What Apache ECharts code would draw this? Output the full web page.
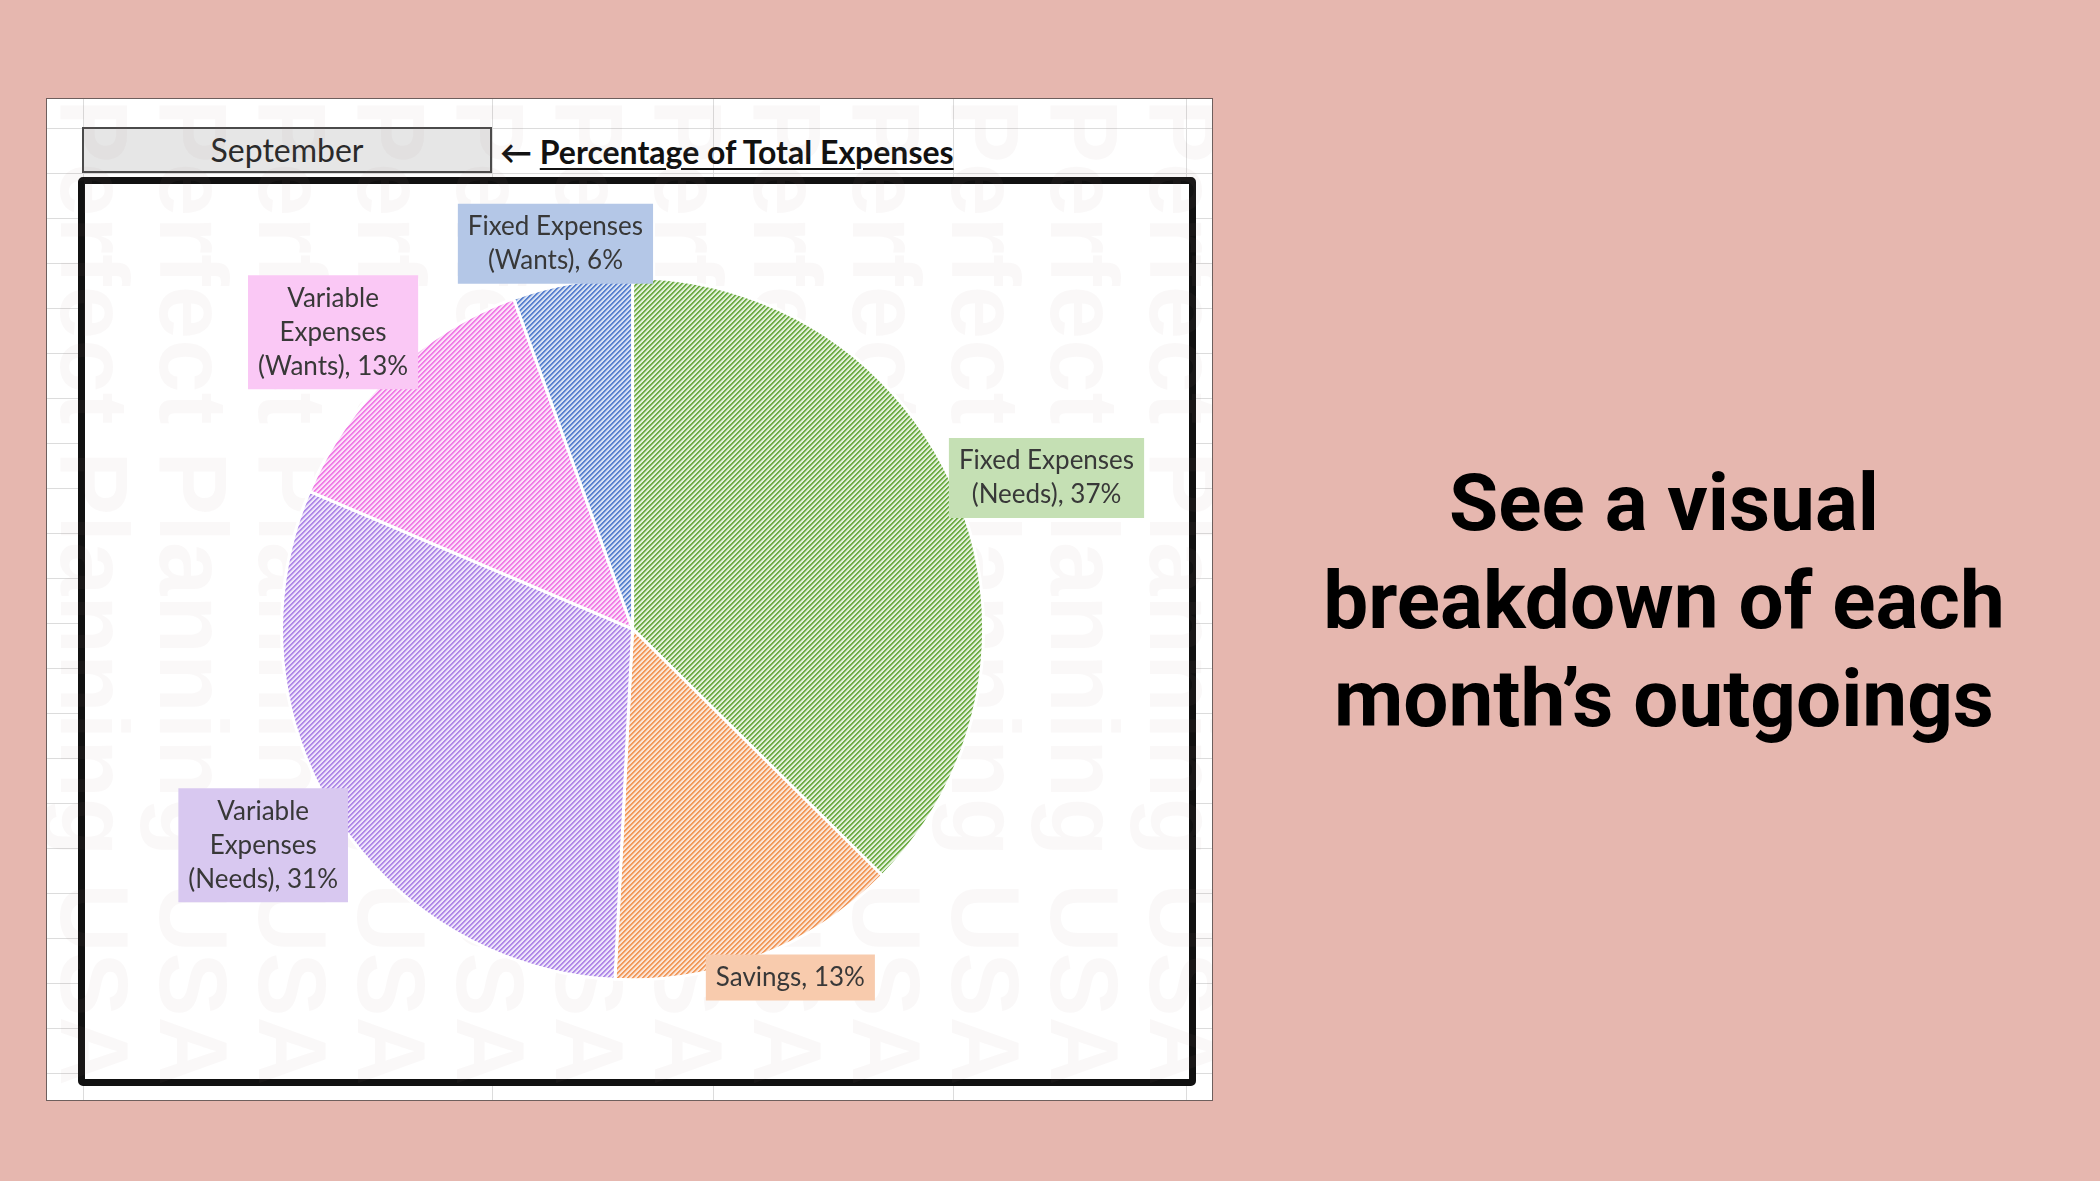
<!DOCTYPE html>
<html>
<head>
<meta charset="utf-8">
<script src="https://cdn.jsdelivr.net/npm/echarts@6/dist/echarts.min.js"></script>
<style>
  html, body { margin: 0; padding: 0; }
  body {
    width: 2100px; height: 1181px; position: relative; overflow: hidden;
    background: #e6b7af; font-family: Lato, 'Open Sans', sans-serif;
  }
  #sheet {
    position: absolute; left: 46px; top: 98px; width: 1167px; height: 1003px;
    background: #fff; border: 1px solid #6e5f5d; box-sizing: border-box; overflow: hidden;
  }
  .gl-h { position: absolute; left: 0; right: 0; height: 1px; background: #dcdcdc; }
  .gl-v { position: absolute; top: 0; bottom: 0; width: 1px; background: #dcdcdc; }
  #month {
    position: absolute; left: 35px; top: 28px; width: 410px; height: 46px;
    box-sizing: border-box; border: 2px solid #4a4a4a; background: #e6e6e6;
    font-size: 32px; line-height: 42px; text-align: center; color: #2a2a2a; z-index: 2;
  }
  #title {
    position: absolute; left: 453px; top: 32px; font-size: 32px; line-height: 42px;
    font-weight: 700; color: #111; z-index: 2; white-space: nowrap;
  }
  #title u { text-underline-offset: 4px; text-decoration-thickness: 2px; }
  #frame {
    position: absolute; left: 31px; top: 78px; width: 1118px; height: 909px;
    box-sizing: border-box; border: 7px solid #111; border-radius: 5px; background: #fff; z-index: 1;
  }
  #mark { position: absolute; left: 0; top: 0; width: 100%; height: 100%; z-index: 3; pointer-events: none; }
  .wm {
    position: absolute; top: 0; width: 96px; writing-mode: vertical-rl;
    font-family: 'Liberation Sans', Arial, sans-serif; font-weight: 700; font-size: 96px; line-height: 96px;
    color: rgba(170, 130, 130, 0.055); white-space: nowrap;
  }
  #chart { position: absolute; left: 38px; top: 85px; width: 1104px; height: 895px; z-index: 4; }
  #blurb {
    position: absolute; left: 1264px; top: 454px; width: 800px; text-align: center;
    font-family: Roboto, sans-serif; font-weight: 700; font-size: 80px; line-height: 98px;
    color: #000;
  }
</style>
</head>
<body>
<div id="sheet">
  <div id="month">September</div>
  <div id="title">&larr; <u>Percentage of Total Expenses</u></div>
  <div id="frame"></div>
  <div id="mark"></div>
  <div id="chart"></div>
</div>
<div id="blurb">See a visual<br>breakdown of each<br>month’s outgoings</div>

<script>
// slices clockwise from 12 o'clock
const categories = [
  'Fixed Expenses (Needs)',
  'Savings',
  'Variable Expenses (Needs)',
  'Variable Expenses (Wants)',
  'Fixed Expenses (Wants)'
];
const shares = [37.4, 13.4, 30.6, 13.1, 5.5];

// hatch colours: stripe, background, label box
const stripeColors = ['#70ad47', '#f19a5c', '#b08ae8', '#f07de6', '#5b83cf'];
const baseColors = ['#e2f0d9', '#fce4d6', '#eee5fb', '#fce0f9', '#d6e0f3'];
const boxColors = ['#c5e0b4', '#f8cbad', '#d8c8f0', '#fac8f5', '#b4c7e7'];

// spreadsheet grid + watermark
const sheet = document.getElementById('sheet');
for (let y = 28.7; y < 1003; y += 45) {
  const d = document.createElement('div');
  d.className = 'gl-h';
  d.style.top = Math.round(y) + 'px';
  sheet.insertBefore(d, sheet.firstChild);
}
[36, 445, 666, 906, 1139].forEach(x => {
  const d = document.createElement('div');
  d.className = 'gl-v';
  d.style.left = x + 'px';
  sheet.insertBefore(d, sheet.firstChild);
});
const mark = document.getElementById('mark');
for (let k = 0; k < 12; k++) {
  const d = document.createElement('div');
  d.className = 'wm';
  d.style.left = (47 + 99 * k - 48) + 'px';
  d.textContent = 'Perfect Planning USA';
  mark.appendChild(d);
}

function hatch(stripe, base) {
  const c = document.createElement('canvas');
  c.width = c.height = 5;
  const g = c.getContext('2d');
  g.fillStyle = base;
  g.fillRect(0, 0, 5, 5);
  for (let y = 0; y < 5; y++) {
    for (let x = 0; x < 5; x++) {
      const k = (x + y) % 5;
      if (k < 2) {
        g.fillStyle = stripe;
        g.fillRect(x, y, 1, 1);
      } else if (k === 2) {
        g.globalAlpha = 0.4;
        g.fillStyle = stripe;
        g.fillRect(x, y, 1, 1);
        g.globalAlpha = 1;
      }
    }
  }
  return c;
}

// wrap label text at ~15 characters per line, like Excel does
function wrap(str) {
  const words = str.split(' ');
  const lines = [];
  let cur = '';
  words.forEach(w => {
    if (cur && (cur + ' ' + w).length > 15) {
      lines.push(cur);
      cur = w;
    } else {
      cur = cur ? cur + ' ' + w : w;
    }
  });
  lines.push(cur);
  return lines.join('\n');
}

const chart = echarts.init(document.getElementById('chart'));
const R = 351;
const centerPct = [49.6, 49.7];

const total = shares.reduce((a, b) => a + b, 0);
const midAngles = [];
let acc = 0;
shares.forEach(v => {
  midAngles.push((acc + v / 2) / total * Math.PI * 2);
  acc += v;
});

const option = {
  animation: false,
  series: [{
    type: 'pie',
    center: centerPct.map(p => p + '%'),
    radius: R,
    startAngle: 90,
    clockwise: true,
    percentPrecision: 0,
    silent: true,
    bleedMargin: 0,
    itemStyle: { borderColor: '#fff', borderWidth: 3 },
    label: {
      show: true,
      position: 'outside',
      formatter: p => wrap(p.name + ', ' + p.percent + '%'),
      color: '#383838',
      fontFamily: 'Lato, "Open Sans", sans-serif',
      fontSize: 26,
      lineHeight: 34,
      padding: [6, 10],
      align: 'center',
      overflow: 'none'
    },
    labelLine: { show: false, length: 0, length2: 0 },
    // Excel "outside end": the box edge sits on the rim at the slice's mid angle
    labelLayout: params => {
      const th = midAngles[params.dataIndex];
      const cx = chart.getWidth() * centerPct[0] / 100;
      const cy = chart.getHeight() * centerPct[1] / 100;
      const w = params.labelRect.width;
      const h = params.labelRect.height;
      const sx = Math.sin(th), cs = Math.cos(th);
      return {
        x: cx + R * sx + (w / 2) * sx,
        y: cy - R * cs - (h / 2) * cs,
        align: 'center',
        verticalAlign: 'middle'
      };
    },
    data: categories.map((name, i) => ({
      name,
      value: shares[i],
      itemStyle: { color: { image: hatch(stripeColors[i], baseColors[i]), repeat: 'repeat' } },
      label: { backgroundColor: boxColors[i] }
    }))
  }]
};

chart.setOption(option);
</script>
</body>
</html>
